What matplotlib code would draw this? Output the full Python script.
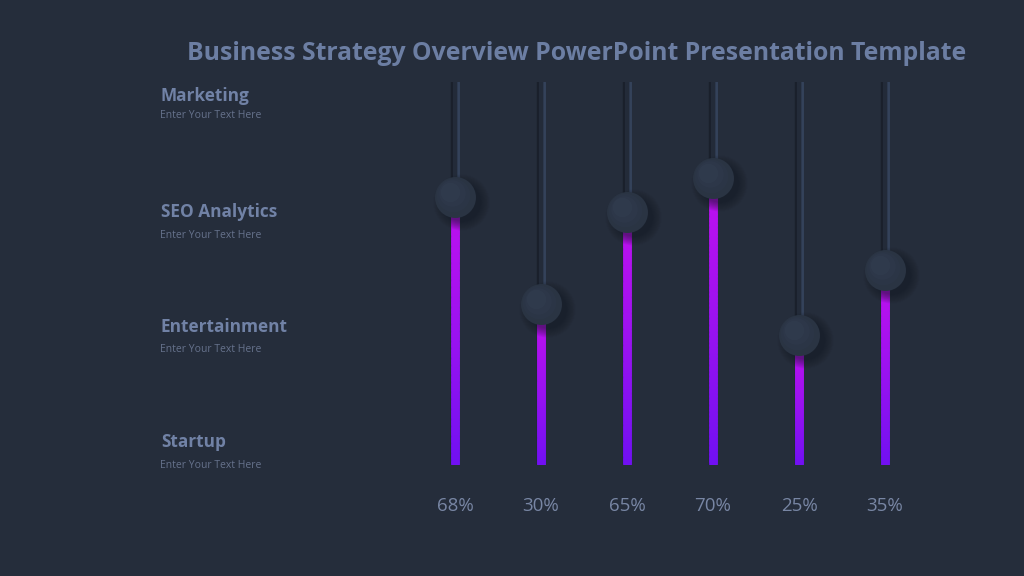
import numpy as np
import matplotlib
matplotlib.use("Agg")
import matplotlib.pyplot as plt
from matplotlib.collections import LineCollection
from matplotlib.colors import LinearSegmentedColormap
from matplotlib.transforms import ScaledTranslation

# ---------------- data ----------------
title = "Business Strategy Overview PowerPoint Presentation Template"
categories = ["Marketing", "SEO Analytics", "Entertainment", "Startup"]
subtitle = "Enter Your Text Here"
pct_labels = ["68%", "30%", "65%", "70%", "25%", "35%"]
slider_levels = [70, 42, 66, 75, 34, 51]   # knob position (0-100 of track)

BG = "#252d3b"
KNOB = "#2a3443"
TITLE_C = "#6c7ea3"
LABEL_C = "#7182a6"
SUB_C = "#66728c"
PCT_C = "#7886a4"

W, H = 1024, 576
fig = plt.figure(figsize=(W / 100, H / 100), dpi=100, facecolor=BG)

n = len(pct_labels)
left_px, width_px = 455 - 43, 86 * n
bot_px, top_px = 465, 82
ax = fig.add_axes([left_px / W, (H - bot_px) / H, width_px / W, (bot_px - top_px) / H])
ax.set_facecolor("none")
ax.set_xlim(-0.5, n - 0.5)
ax.set_ylim(0, 100)
for s in ax.spines.values():
    s.set_visible(False)
ax.set_yticks([])
x = np.arange(n)
ax.set_xticks(x)
ax.set_xticklabels(pct_labels, color=PCT_C, fontsize=13.5, family="Open Sans")
ax.tick_params(axis="x", length=0, pad=23)

def off(dx, dy):
    return ax.transData + ScaledTranslation(dx / 100, dy / 100, fig.dpi_scale_trans)

# tracks (neumorphic groove)
for xi in x:
    ax.plot([xi, xi], [0, 100], color="#34425a", lw=5.0, solid_capstyle="round",
            transform=off(1.2, -0.5), zorder=1)
    ax.plot([xi, xi], [0, 100], color="#1a202b", lw=4.6, solid_capstyle="round",
            transform=off(-0.8, 0.5), zorder=1)
    ax.plot([xi, xi], [0, 100], color="#232b39", lw=3.0, solid_capstyle="round",
            transform=off(0.2, 0), zorder=2)

# gradient fills
cmap = LinearSegmentedColormap.from_list("pm", ["#7010f2", "#9a12f0", "#c010ee"])
for xi, lv in zip(x, slider_levels):
    ys = np.linspace(0, lv, 80)
    segs = [[(xi, ys[i]), (xi, ys[i + 1])] for i in range(len(ys) - 1)]
    lc = LineCollection(segs, colors=cmap(np.linspace(0, 1, len(segs))),
                        linewidths=6.2, capstyle="round", zorder=3)
    ax.add_collection(lc)

# knobs with soft shadow to the bottom-right
for k in range(12, 0, -1):
    ax.scatter(x, slider_levels, s=(26 + k * 1.2) ** 2, color="#151b25",
               alpha=0.06, lw=0, transform=off(6, -5), zorder=4)
ax.scatter(x, slider_levels, s=29.5 ** 2, color=KNOB, lw=0, zorder=5)
for k, c in enumerate(["#2c3647", "#2e384a", "#303b4d"]):
    ax.scatter(x, slider_levels, s=(24 - k * 5) ** 2, color=c, lw=0,
               transform=off(-2 - k * 1.5, 2 + k * 1.5), zorder=6 + k, alpha=0.8)

# title
fig.text(187 / W, 1 - 53 / H, title, color=TITLE_C, fontsize=17.8, fontweight="bold",
         family="Open Sans", ha="left", va="center")

# category labels
cat_y = [96, 212, 327, 442]
sub_y = [115, 235, 350, 466]
for name, cy, sy in zip(categories, cat_y, sub_y):
    fig.text(161 / W, 1 - cy / H, name, color=LABEL_C, fontsize=12.4, fontweight="bold",
             family="Open Sans", ha="left", va="center")
    fig.text(160 / W, 1 - sy / H, subtitle, color=SUB_C, fontsize=7.5,
             family="Open Sans", ha="left", va="center")

fig.savefig("out.png", dpi=100, facecolor=BG)
